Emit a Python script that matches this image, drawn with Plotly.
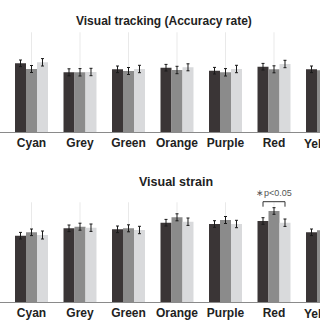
import plotly.graph_objects as go

categories = ["Cyan", "Grey", "Green", "Orange", "Purple", "Red", "Yellow"]

tracking_dark = [69.0, 60.0, 63.0, 64.6, 61.6, 65.6, 63.0]
tracking_mid = [63.3, 60.0, 61.3, 62.3, 60.0, 63.0, 62.0]
tracking_light = [70.0, 60.3, 63.3, 65.0, 63.3, 68.3, 63.0]
tracking_dark_err = [3.3, 3.5, 3.3, 3.3, 3.3, 3.3, 3.3]
tracking_mid_err = [3.5, 3.7, 3.5, 3.7, 3.7, 3.5, 3.5]
tracking_light_err = [3.7, 3.7, 3.7, 3.5, 3.7, 3.7, 3.5]

strain_dark = [66.6, 74.0, 73.0, 79.6, 78.3, 81.3, 70.0]
strain_mid = [70.0, 75.6, 74.0, 85.0, 82.3, 91.3, 72.0]
strain_light = [67.3, 74.6, 72.3, 80.6, 78.3, 79.6, 70.0]
strain_dark_err = [3.3, 3.3, 3.3, 3.3, 3.3, 3.3, 3.3]
strain_mid_err = [3.3, 3.5, 3.5, 3.5, 3.5, 3.3, 3.3]
strain_light_err = [4.0, 3.7, 3.7, 3.7, 3.7, 3.7, 3.5]

faint_line_top = [100, 100, 100, 100, 100, 100, 100]

sig_label = "∗p<0.05"
sig_category = "Red"

colors = ["#3a3536", "#8b8b8b", "#d9dadc"]
FONT = "Liberation Sans"

W, H = 320, 320
bargap = 0.32

fig = go.Figure()

def add_group(vals_list, errs_list, xa, ya):
    for vals, errs, col in zip(vals_list, errs_list, colors):
        fig.add_trace(go.Bar(
            x=categories, y=vals, marker=dict(color=col, line=dict(width=0)),
            error_y=dict(type="data", array=errs, color="#1a1a1a", thickness=1, width=1.5),
            xaxis=xa, yaxis=ya, showlegend=False,
        ))

add_group([tracking_dark, tracking_mid, tracking_light],
          [tracking_dark_err, tracking_mid_err, tracking_light_err], "x", "y")
add_group([strain_dark, strain_mid, strain_light],
          [strain_dark_err, strain_mid_err, strain_light_err], "x2", "y2")

# faint vertical lines above each group's middle bar
for i, cat in enumerate(categories):
    fig.add_shape(type="line", xref="x", yref="y", x0=i, x1=i,
                  y0=tracking_mid[i] + tracking_mid_err[i], y1=faint_line_top[i],
                  line=dict(color="#e9e9e9", width=1), layer="below")
    fig.add_shape(type="line", xref="x2", yref="y2", x0=i, x1=i,
                  y0=strain_mid[i] + strain_mid_err[i], y1=faint_line_top[i],
                  line=dict(color="#e9e9e9", width=1), layer="below")

# significance bracket
ri = categories.index(sig_category)
bw = (1 - bargap) / 3
xl, xr = ri - bw, ri + bw
ytop = 100.6
fig.add_shape(type="path", xref="x2", yref="y2",
              path=f"M {xl} {ytop-5} L {xl} {ytop} L {xr} {ytop} L {xr} {ytop-5}",
              line=dict(color="#333333", width=1))
fig.add_annotation(x=ri, y=ytop + 1.5, xref="x2", yref="y2", text=sig_label,
                   showarrow=False, yanchor="bottom",
                   font=dict(family=FONT, size=9, color="#555555"))

# range so categories are spaced ~48.5 px with Cyan centered at ~31.5 px
spacing = 48.5
r0 = -31.5 / spacing
r1 = r0 + W / spacing

def ypaper(px):
    return 1 - px / H

tickfont = dict(family=FONT, size=12, color="#222222", weight="bold")
xcommon = dict(range=[r0, r1], showline=True, linecolor="#8a8a8a", linewidth=1,
               ticks="", showgrid=False, zeroline=False, tickfont=tickfont,
               ticklabelstandoff=-1, automargin=False, fixedrange=True)
ycommon = dict(range=[0, 110], visible=False, showgrid=False, zeroline=False,
               fixedrange=True)

fig.update_layout(
    width=W, height=H, margin=dict(l=0, r=0, t=0, b=0),
    paper_bgcolor="white", plot_bgcolor="white",
    barmode="group", bargap=bargap, bargroupgap=0,
    xaxis=dict(**xcommon, domain=[0, 1], anchor="y"),
    yaxis=dict(**ycommon, domain=[ypaper(132.3), ypaper(22.3)], anchor="x"),
    xaxis2=dict(**xcommon, domain=[0, 1], anchor="y2"),
    yaxis2=dict(**ycommon, domain=[ypaper(302.3), ypaper(192.3)], anchor="x2"),
    font=dict(family=FONT),
)

# category labels that fall just beyond the right edge (partially visible)
for i, cat in enumerate(categories):
    xp = (i - r0) / (r1 - r0)
    if xp > 1:
        for ypx in (144, 313.5):
            fig.add_annotation(text=cat, xref="paper", yref="paper", x=xp, y=ypaper(ypx),
                               xanchor="center", yanchor="middle", showarrow=False,
                               font=tickfont)

fig.add_annotation(text="<b>Visual tracking (Accuracy rate)</b>", xref="paper", yref="paper",
                   x=164 / W, y=ypaper(12), showarrow=False,
                   font=dict(family=FONT, size=12, color="#222222"))
fig.add_annotation(text="<b>Visual strain</b>", xref="paper", yref="paper",
                   x=176 / W, y=ypaper(182), showarrow=False,
                   font=dict(family=FONT, size=12.5, color="#222222"))

fig.write_html("out.html")
